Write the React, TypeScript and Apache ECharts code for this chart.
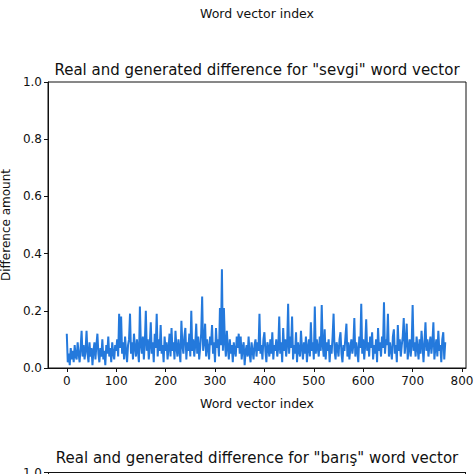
import { useEffect, useRef } from 'react'
import * as echarts from 'echarts'

// sampled every 2nd index of the 768-dim word vector
const step = 2
const diffValues = [
  0.12, 0.02, 0.05, 0.01, 0.07, 0.03, 0.06, 0.02, 0.08, 0.04, 0.03, 0.09, 0.05, 0.02, 0.07, 0.13,
  0.04, 0.08, 0.03, 0.06, 0.13, 0.05, 0.02, 0.09, 0.04, 0.07, 0.01, 0.06, 0.09, 0.03, 0.08, 0.12,
  0.05, 0.02, 0.07, 0.04, 0.10, 0.03, 0.06, 0.01, 0.08, 0.05, 0.11, 0.04, 0.07, 0.02, 0.09, 0.05,
  0.03, 0.08, 0.06, 0.10, 0.04, 0.19, 0.07, 0.18, 0.05, 0.09, 0.03, 0.11, 0.06, 0.02, 0.08, 0.10,
  0.19, 0.05, 0.09, 0.03, 0.12, 0.07, 0.04, 0.10, 0.06, 0.02, 0.215, 0.08, 0.05, 0.11, 0.03, 0.09,
  0.20, 0.06, 0.10, 0.03, 0.08, 0.16, 0.05, 0.09, 0.02, 0.12, 0.07, 0.19, 0.04, 0.10, 0.06, 0.15,
  0.05, 0.08, 0.02, 0.11, 0.06, 0.09, 0.03, 0.07, 0.12, 0.04, 0.14, 0.06, 0.09, 0.03, 0.13, 0.07,
  0.04, 0.10, 0.06, 0.02, 0.165, 0.08, 0.05, 0.11, 0.14, 0.03, 0.09, 0.06, 0.12, 0.04, 0.20, 0.06,
  0.10, 0.04, 0.08, 0.155, 0.05, 0.11, 0.03, 0.07, 0.12, 0.25, 0.06, 0.09, 0.155, 0.04, 0.10, 0.07,
  0.03, 0.11, 0.08, 0.15, 0.05, 0.09, 0.02, 0.14, 0.07, 0.10, 0.04, 0.21, 0.08, 0.345, 0.06, 0.21,
  0.09, 0.04, 0.13, 0.07, 0.03, 0.10, 0.05, 0.08, 0.02, 0.09, 0.06, 0.04, 0.11, 0.07, 0.12, 0.05,
  0.11, 0.03, 0.07, 0.09, 0.01, 0.06, 0.08, 0.04, 0.11, 0.05, 0.02, 0.09, 0.06, 0.03, 0.08, 0.10,
  0.04, 0.09, 0.06, 0.19, 0.05, 0.08, 0.03, 0.10, 0.125, 0.06, 0.02, 0.09, 0.07, 0.04, 0.10, 0.05,
  0.125, 0.03, 0.08, 0.06, 0.10, 0.04, 0.07, 0.18, 0.05, 0.09, 0.02, 0.14, 0.06, 0.10, 0.04, 0.08,
  0.225, 0.05, 0.11, 0.07, 0.18, 0.03, 0.08, 0.05, 0.125, 0.02, 0.09, 0.06, 0.04, 0.13, 0.07, 0.03,
  0.09, 0.05, 0.11, 0.02, 0.07, 0.10, 0.04, 0.16, 0.06, 0.09, 0.03, 0.215, 0.05, 0.10, 0.07, 0.04,
  0.11, 0.06, 0.22, 0.08, 0.04, 0.135, 0.03, 0.09, 0.06, 0.10, 0.02, 0.08, 0.05, 0.11, 0.19, 0.06,
  0.03, 0.09, 0.07, 0.04, 0.10, 0.125, 0.05, 0.02, 0.08, 0.06, 0.11, 0.155, 0.04, 0.09, 0.03, 0.07,
  0.10, 0.05, 0.08, 0.175, 0.04, 0.09, 0.06, 0.02, 0.11, 0.07, 0.225, 0.05, 0.10, 0.03, 0.08, 0.17,
  0.06, 0.09, 0.04, 0.11, 0.07, 0.125, 0.03, 0.08, 0.05, 0.10, 0.02, 0.14, 0.06, 0.09, 0.04, 0.11,
  0.07, 0.23, 0.05, 0.10, 0.08, 0.19, 0.04, 0.09, 0.06, 0.03, 0.11, 0.135, 0.05, 0.08, 0.02, 0.15,
  0.06, 0.10, 0.04, 0.08, 0.11, 0.175, 0.05, 0.09, 0.155, 0.03, 0.07, 0.10, 0.04, 0.08, 0.22, 0.06,
  0.09, 0.04, 0.11, 0.07, 0.03, 0.10, 0.05, 0.13, 0.08, 0.02, 0.09, 0.16, 0.06, 0.10, 0.04, 0.08,
  0.11, 0.05, 0.09, 0.16, 0.03, 0.07, 0.10, 0.04, 0.13, 0.06, 0.08, 0.02, 0.10, 0.125, 0.03, 0.09,
]
const xTicks = [0, 100, 200, 300, 400, 500, 600, 700, 800]
const xLabel = 'Word vector index'
const yLabel = 'Difference amount'
const title = 'Real and generated difference for "sevgi" word vector'
const nextTitle = 'Real and generated difference for "barış" word vector'

const FONT = '"DejaVu Sans", sans-serif'
const INK = '#111'

export default function App() {
  const elRef = useRef<HTMLDivElement>(null)

  useEffect(() => {
    document.body.style.margin = '0'
    if (!elRef.current) return
    const chart = echarts.init(elRef.current, undefined, { renderer: 'svg' })
    chart.setOption({
      animation: false,
      backgroundColor: '#fff',
      textStyle: { fontFamily: FONT, color: INK },
      grid: {
        left: 48, right: 8, top: 82, bottom: 106,
        containLabel: false, outerBoundsMode: 'none',
        show: true, borderColor: INK, borderWidth: 1,
      },
      xAxis: {
        type: 'value',
        min: -38,
        max: 808,
        name: xLabel,
        nameLocation: 'middle',
        nameGap: 29,
        nameTextStyle: { fontSize: 12.5, color: INK, fontFamily: FONT },
        axisLine: { show: true, onZero: false, lineStyle: { color: INK } },
        axisTick: { show: true, length: 4, customValues: xTicks, lineStyle: { color: INK } },
        axisLabel: { customValues: xTicks, fontSize: 12, color: INK, margin: 7, fontFamily: FONT },
        splitLine: { show: false },
      },
      yAxis: {
        type: 'value',
        min: 0,
        max: 1,
        interval: 0.2,
        name: yLabel,
        nameLocation: 'middle',
        nameGap: 30,
        nameTextStyle: { fontSize: 12, color: INK, fontFamily: FONT },
        axisLine: { show: true, onZero: false, lineStyle: { color: INK } },
        axisTick: { show: true, length: 4, lineStyle: { color: INK } },
        axisLabel: { fontSize: 12, color: INK, margin: 6, fontFamily: FONT, formatter: (v: number) => v.toFixed(1) },
        splitLine: { show: false },
      },
      graphic: [
        { type: 'text', x: 257, y: 13, style: { text: xLabel, font: `12.5px ${FONT}`, fill: INK, textAlign: 'center', textVerticalAlign: 'middle' } },
        { type: 'text', x: 257, y: 70, style: { text: title, font: `15px ${FONT}`, fill: INK, textAlign: 'center', textVerticalAlign: 'middle' } },
        { type: 'text', x: 257, y: 458, style: { text: nextTitle, font: `15px ${FONT}`, fill: INK, textAlign: 'center', textVerticalAlign: 'middle' } },
        { type: 'text', x: 42, y: 473, style: { text: '1.0', font: `12px ${FONT}`, fill: INK, textAlign: 'right', textVerticalAlign: 'middle' } },
        { type: 'line', shape: { x1: 44, y1: 472.5, x2: 466, y2: 472.5 }, style: { stroke: INK, lineWidth: 1 } },
        { type: 'line', shape: { x1: 48.5, y1: 472, x2: 48.5, y2: 474 }, style: { stroke: INK, lineWidth: 1 } },
        { type: 'line', shape: { x1: 465.5, y1: 472, x2: 465.5, y2: 474 }, style: { stroke: INK, lineWidth: 1 } },
      ],
      series: [
        {
          type: 'line',
          data: diffValues.map((v, i) => [i * step, v]),
          showSymbol: false,
          lineStyle: { color: '#2479dc', width: 2 },
        },
      ],
    })
    return () => chart.dispose()
  }, [])

  return <div ref={elRef} style={{ width: 474, height: 474 }} />
}
